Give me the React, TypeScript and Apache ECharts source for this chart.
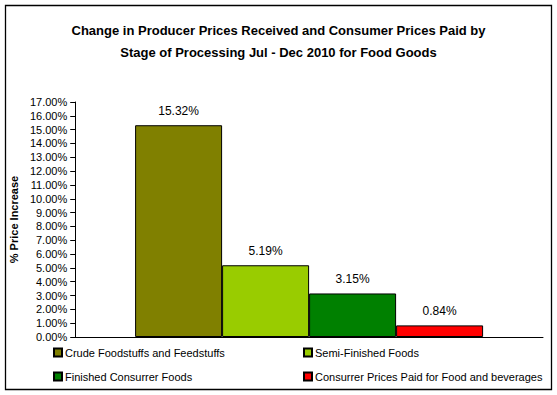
import React, { useEffect, useRef } from "react";
import * as echarts from "echarts";

const seriesNames = [
  "Crude Foodstuffs and Feedstuffs",
  "Semi-Finished Foods",
  "Finished Consumer Foods",
  "Consumer Prices Paid for Food and beverages",
];
const legendLabels = [
  "Crude Foodstuffs and Feedstuffs",
  "Semi-Finished Foods",
  "Finished Consurrer Foods",
  "Consurrer Prices Paid for Food and beverages",
];
const values = [15.32, 5.19, 3.15, 0.84];
const colors = ["#808000", "#99CC00", "#008000", "#FF0000"];
const category = ["Jul - Dec 2010"];

const FONT = "Liberation Sans, Arial, sans-serif";

export default function App() {
  const ref = useRef<HTMLDivElement>(null);
  useEffect(() => {
    if (!ref.current) return;
    const chart = echarts.init(ref.current, null, { renderer: "svg" });
    const labelMap: Record<string, string> = {};
    seriesNames.forEach((n, i) => (labelMap[n] = legendLabels[i]));
    const legendCommon = {
      orient: "vertical" as const,
      itemWidth: 8,
      itemHeight: 8,
      itemGap: 13,
      icon: "rect",
      textStyle: { fontFamily: FONT, fontSize: 11, color: "#000", padding: [0, 0, 0, -2] },
      formatter: (n: string) => labelMap[n],
      selectedMode: false,
    };
    chart.setOption({
      animation: false,
      backgroundColor: "#fff",
      title: {
        text: "Change in Producer Prices Received and Consumer Prices Paid by\nStage of Processing Jul - Dec 2010 for Food Goods",
        left: "center",
        top: 14,
        textStyle: { fontFamily: FONT, fontSize: 13, fontWeight: "bold", color: "#000", lineHeight: 22 },
      },
      graphic: [
        {
          type: "rect",
          shape: { x: 5.5, y: 5.5, width: 546, height: 384 },
          style: { fill: "none", stroke: "#000", lineWidth: 1.3 },
          silent: true,
        },
      ],
      legend: [
        { ...legendCommon, left: 48, top: 342, data: [seriesNames[0], seriesNames[2]] },
        { ...legendCommon, left: 298, top: 342, data: [seriesNames[1], seriesNames[3]] },
      ],
      grid: { left: 69, right: 14, top: 102, bottom: 58 },
      xAxis: {
        type: "category",
        data: category,
        axisLine: { lineStyle: { color: "#000", width: 1 } },
        axisTick: { show: false },
        axisLabel: { show: false },
      },
      yAxis: {
        type: "value",
        min: 0,
        max: 17,
        interval: 1,
        name: "% Price Increase",
        nameLocation: "middle",
        nameGap: 46,
        nameTextStyle: { fontFamily: FONT, fontSize: 11, fontWeight: "bold", color: "#000" },
        axisLine: { show: true, lineStyle: { color: "#000", width: 1 } },
        axisTick: { show: true, length: 5, lineStyle: { color: "#000" } },
        splitLine: { show: false },
        axisLabel: {
          fontFamily: FONT,
          fontSize: 11,
          color: "#000",
          margin: 8,
          formatter: (v: number) => v.toFixed(2) + "%",
        },
      },
      series: seriesNames.map((name, i) => ({
        name,
        type: "bar",
        data: [values[i]],
        barWidth: 87,
        barGap: "0%",
        itemStyle: { color: colors[i], borderColor: "#000", borderWidth: 1 },
        label: {
          show: true,
          position: "top",
          distance: 8,
          fontFamily: FONT,
          fontSize: 12,
          color: "#000",
          formatter: (p: any) => p.value.toFixed(2) + "%",
        },
      })),
    });
    return () => chart.dispose();
  }, []);
  return (
    <div
      ref={ref}
      style={{ position: "fixed", left: 0, top: 0, width: 557, height: 395 }}
    />
  );
}
